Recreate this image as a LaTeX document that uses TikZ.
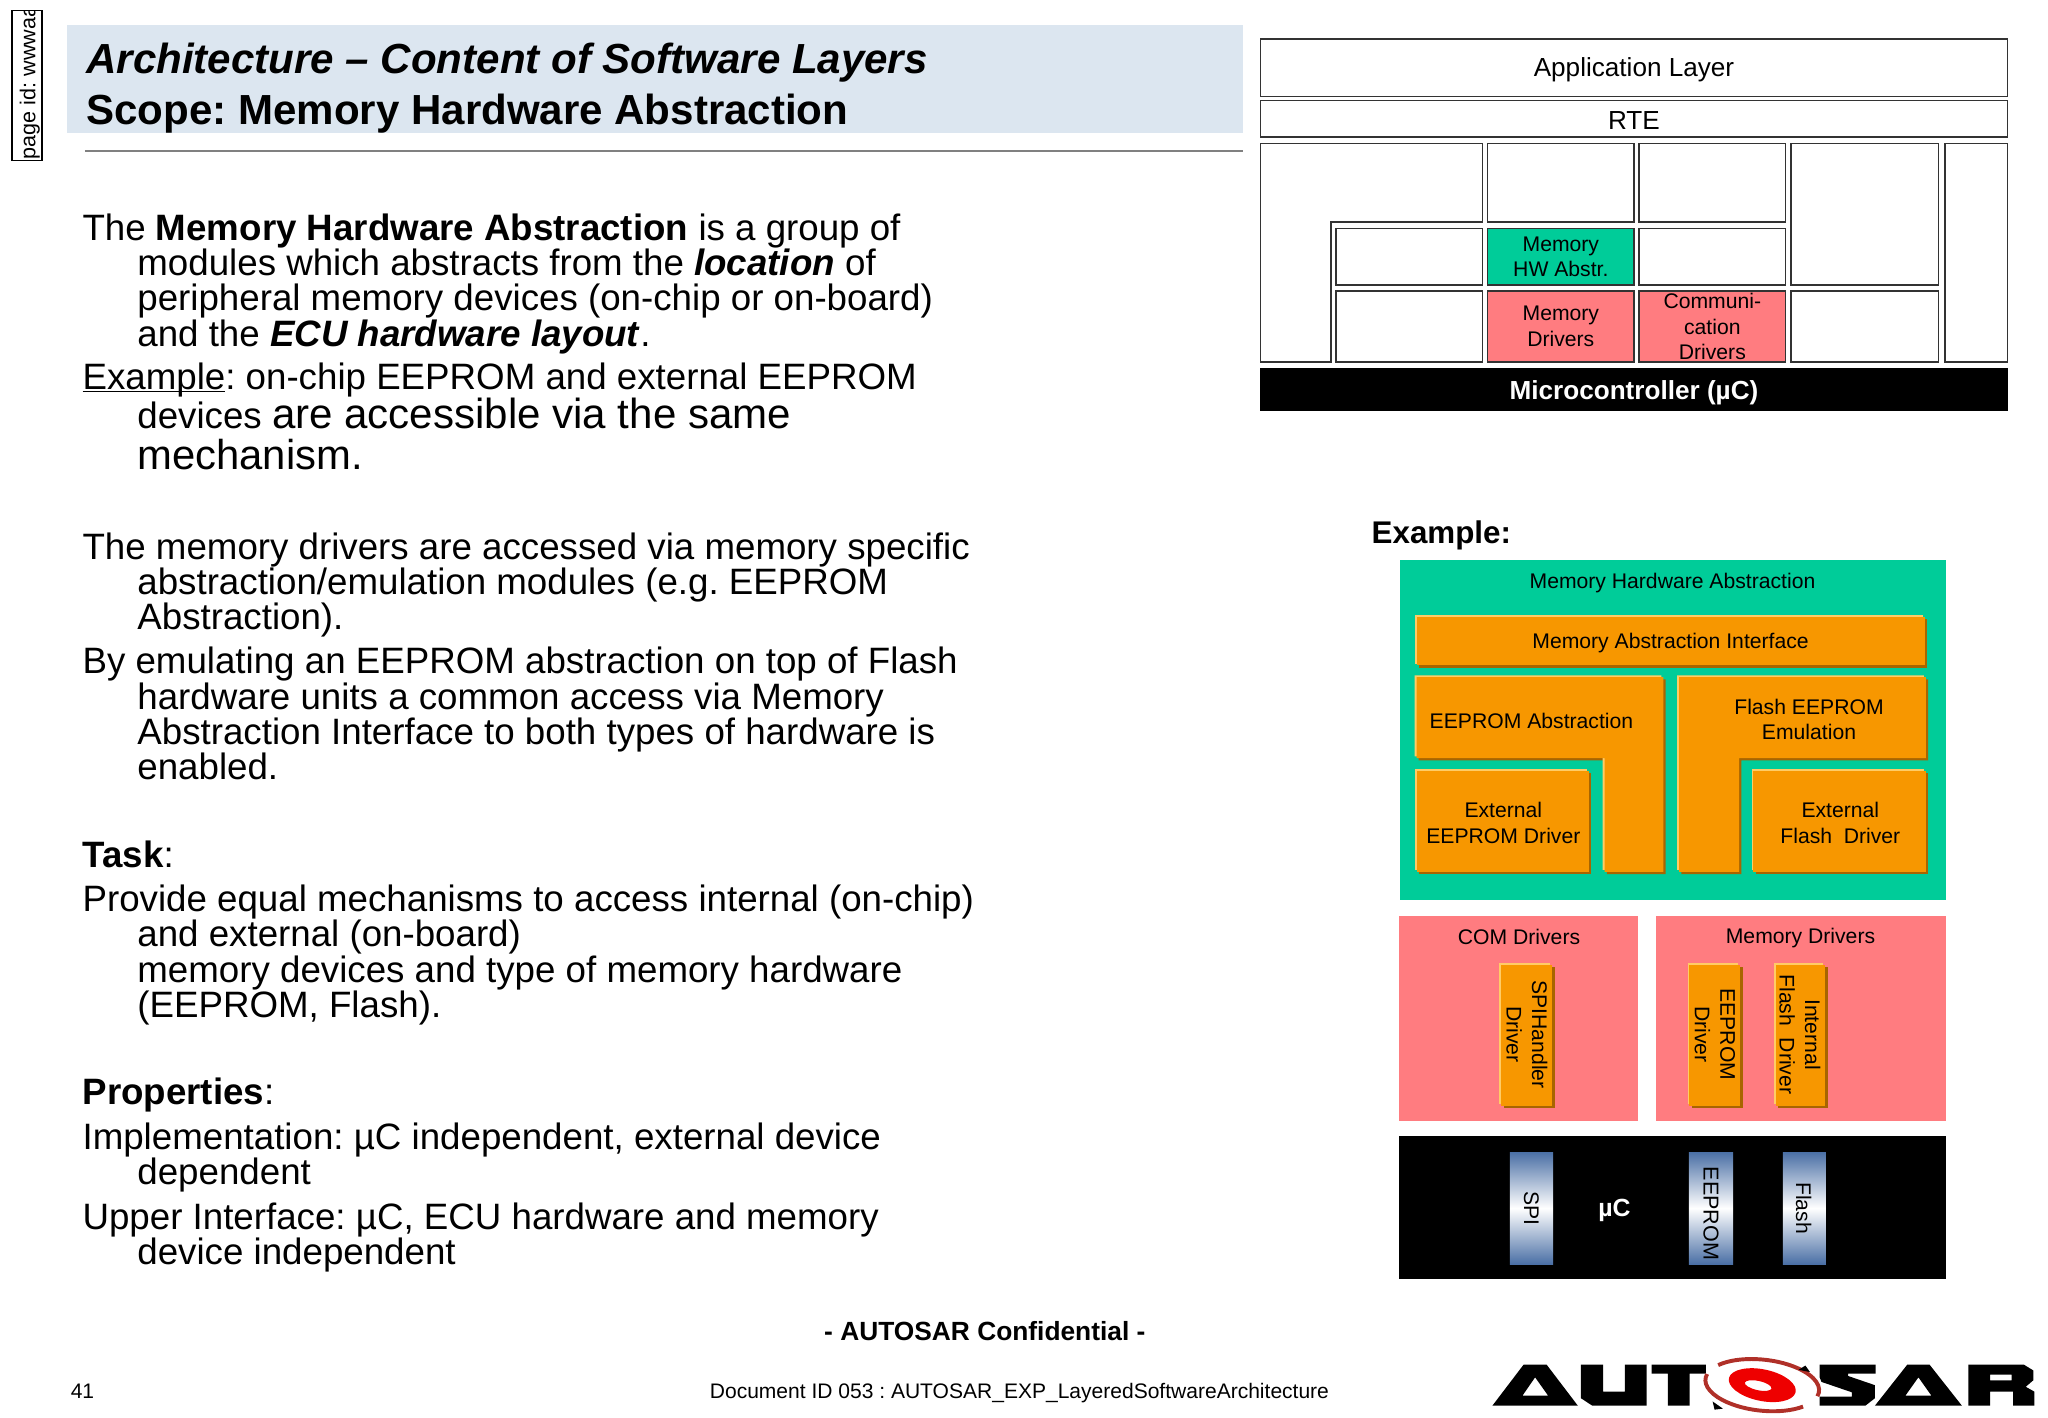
\documentclass[tikz,border=0pt]{standalone}
\usepackage{fontspec}
\setmainfont{Liberation Sans}
\frenchspacing
\definecolor{band}{HTML}{DCE6F0}
\definecolor{hwgreen}{HTML}{00CC99}
\definecolor{drvpink}{HTML}{FF7C80}
\definecolor{omain}{HTML}{F79700}
\definecolor{olight}{HTML}{FFCC66}
\definecolor{odark}{HTML}{A86500}
\definecolor{chipblue}{HTML}{4A6FA5}
\definecolor{logored}{HTML}{EE0000}
\definecolor{logoring}{HTML}{B03028}
\newcommand\fsz[2]{\fontsize{#1}{#2}\selectfont}
\newcommand\bevel[1]{%
  \fill[odark,shift={(3.2,3.2)}] #1 -- cycle;
  \fill[olight] #1 -- cycle;
  \fill[omain,shift={(1.5,1.5)}] #1 -- cycle;}
\tikzset{
  lay/.style={draw=black!80,line width=1.2pt,fill=white},
  body/.style={anchor=base west,inner sep=0pt,font=\fsz{28.1}{30}},
  big/.style={anchor=base west,inner sep=0pt,font=\fsz{32}{34}},
  title/.style={anchor=base west,inner sep=0pt,font=\fsz{32.2}{36}\bfseries},
  lbl/.style={inner sep=0pt,align=center,font=\fsz{16.2}{19.5}},
  toplbl/.style={inner sep=0pt,align=center,font=\fsz{20}{24}},
  foot/.style={inner sep=0pt,anchor=base,font=\fsz{16.1}{19}},
  chip/.style={top color=chipblue,bottom color=chipblue,middle color=white},
}
\begin{document}
\begin{tikzpicture}[x=1pt,y=-1pt]
\useasboundingbox (0,0) rectangle (1568,1085.6);
% page id
\begin{scope}
\clip (9,8) rectangle (32,123);
\node[rotate=90,anchor=base west,inner sep=0pt,font=\fsz{16.5}{20}] (pid) at (27,122) {page id: wwwaa};
\end{scope}
\draw[black,line width=1.2pt] (9,8) rectangle (32,123);
% title
\fill[band] (51,19) rectangle (952,102);
\draw[gray,line width=1pt] (65,115.5) -- (952,115.5);
\node[title] (ti1) at (66,56) {\itshape Architecture – Content of Software Layers};
\node[title] (ti2) at (66,95) {Scope: Memory Hardware Abstraction};
% body
\node[body] (b1) at (63,184) {The \textbf{Memory Hardware Abstraction} is a group of};
\node[body] (b2) at (105,211) {modules which abstracts from the \textbf{\textit{location}} of};
\node[body] (b3) at (105,238) {peripheral memory devices (on-chip or on-board)};
\node[body] (b4) at (105,265) {and the \textbf{\textit{ECU hardware layout}}.};
\node[body] (b5) at (63,298) {\underline{\smash{Example}}: on-chip EEPROM and external EEPROM};
\node[body] (b6) at (105,328) {devices {\fsz{32.2}{34}are accessible via the same}};
\node[big] (b7) at (105,359.5) {mechanism.};
\node[body] (b8) at (63,428) {The memory drivers are accessed via memory specific};
\node[body] (b9) at (105,455) {abstraction/emulation modules (e.g. EEPROM};
\node[body] (b10) at (105,482) {Abstraction).};
\node[body] (b11) at (63,516) {By emulating an EEPROM abstraction on top of Flash};
\node[body] (b12) at (105,543) {hardware units a common access via Memory};
\node[body] (b13) at (105,570) {Abstraction Interface to both types of hardware is};
\node[body] (b14) at (105,597) {enabled.};
\node[body] (b15) at (63,664) {\textbf{Task}:};
\node[body] (b16) at (63,698) {Provide equal mechanisms to access internal (on-chip)};
\node[body] (b17) at (105,725) {and external (on-board)};
\node[body] (b18) at (105,752) {memory devices and type of memory hardware};
\node[body] (b19) at (105,779) {(EEPROM, Flash).};
\node[body] (b20) at (63,846) {\textbf{Properties}:};
\node[body] (b21) at (63,880) {Implementation: µC independent, external device};
\node[body] (b22) at (105,907) {dependent};
\node[body] (b23) at (63,941) {Upper Interface: µC, ECU hardware and memory};
\node[body] (b24) at (105,968) {device independent};
% footer
\node[foot,font=\fsz{20.15}{24}\bfseries] (f1) at (754,1026) {- AUTOSAR Confidential -};
\node[foot,anchor=base west] (f2) at (54,1071) {41};
\node[foot] (f3) at (780.5,1071) {Document ID 053 : AUTOSAR\_EXP\_LayeredSoftwareArchitecture};
% upper layer diagram
\draw[lay] (965,30) rectangle (1537,74);
\node[toplbl] (al) at (1251,53.5) {Application Layer};
\draw[lay] (965,77) rectangle (1537,105);
\node[toplbl] (rte) at (1251,92) {RTE};
\draw[lay] (965,110) -- (1135,110) -- (1135,170) -- (1019,170) -- (1019,277) -- (965,277) -- cycle;
\draw[lay] (1139,110) rectangle (1251,170);
\draw[lay] (1255,110) rectangle (1367,170);
\draw[lay] (1371,110) rectangle (1484,218);
\draw[lay] (1489,110) rectangle (1537,277);
\draw[lay] (1023,175) rectangle (1135,218);
\draw[lay,fill=hwgreen] (1139,175) rectangle (1251,218);
\node[lbl] (mha) at (1195,196.5) {Memory\\HW Abstr.};
\draw[lay] (1255,175) rectangle (1367,218);
\draw[lay] (1023,223) rectangle (1135,277);
\draw[lay,fill=drvpink] (1139,223) rectangle (1251,277);
\node[lbl] (mdr) at (1195,250) {Memory\\Drivers};
\draw[lay,fill=drvpink] (1255,223) rectangle (1367,277);
\node[lbl] (cdr) at (1311,250) {Communi-\\cation\\Drivers};
\draw[lay] (1371,223) rectangle (1484,277);
\fill[black] (965,282) rectangle (1537,315);
\node[toplbl,text=white,font=\fsz{20}{24}\bfseries] (mc) at (1251,300.5) {Microcontroller (µC)};
% example
\node[anchor=base west,inner sep=0pt,font=\fsz{24}{28}\bfseries] (ex) at (1050,416) {Example:};
\fill[hwgreen] (1072,429) rectangle (1490,689);
\node[lbl] (l1) at (1280.5,446.5) {Memory Hardware Abstraction};
\bevel{(1083,471) -- (1472,471) -- (1472,508) -- (1083,508)}
\node[lbl] (l2) at (1279,492.5) {Memory Abstraction Interface};
\bevel{(1083,517) -- (1272,517) -- (1272,666) -- (1227,666) -- (1227,579) -- (1083,579)}
\node[lbl] (l3) at (1172.5,552) {EEPROM Abstraction};
\bevel{(1083,589) -- (1215,589) -- (1215,666) -- (1083,666)}
\node[lbl] (l4) at (1151,630) {External\\EEPROM Driver};
\bevel{(1284,517) -- (1473,517) -- (1473,579) -- (1330,579) -- (1330,666) -- (1284,666)}
\node[lbl] (l5) at (1385,551) {Flash EEPROM\\Emulation};
\bevel{(1341,589) -- (1473,589) -- (1473,666) -- (1341,666)}
\node[lbl] (l6) at (1409,630) {External\\Flash\ \ Driver};
% drivers
\fill[drvpink] (1071,701) rectangle (1254,858);
\node[lbl] (l7) at (1163,717) {COM Drivers};
\fill[drvpink] (1268,701) rectangle (1490,858);
\node[lbl] (l8) at (1378.5,718.5) {Memory Drivers};
\bevel{(1148,737) -- (1187,737) -- (1187,845) -- (1148,845)}
\node[lbl,rotate=-90] (l9) at (1169,792) {SPIHandler\\Driver};
\bevel{(1292,737) -- (1331,737) -- (1331,845) -- (1292,845)}
\node[lbl,rotate=-90] (l10) at (1313,792) {EEPROM\\Driver};
\bevel{(1358,737) -- (1396,737) -- (1396,845) -- (1358,845)}
\node[lbl,rotate=-90] (l11) at (1378,792) {Internal\\Flash\ \ Driver};
% microcontroller
\fill[black] (1071,870) rectangle (1490,979);
\fill[chip] (1156,882) rectangle (1189,968);
\fill[chip] (1293,882) rectangle (1327,968);
\fill[chip] (1365,882) rectangle (1398,968);
\node[lbl,rotate=-90] (c1) at (1172.5,925) {SPI};
\node[lbl,rotate=-90,font=\fsz{16.5}{20}] (c2) at (1310,929) {EEPROM};
\node[lbl,rotate=-90] (c3) at (1381,925) {Flash};
\node[lbl,text=white,font=\fsz{19}{22}\bfseries] (c4) at (1236,927) {µC};
% logo
\begin{scope}[shift={(1111,998)},xscale=.2923,yscale=.25]
\fill[black,even odd rule] (108,313) -- (190,187) -- (250,187) -- (332,313) -- cycle
  (187,282) -- (220,226) -- (254,282) -- cycle;
\fill[black] (340,187) -- (398,187) -- (398,270) -- (455,270) -- (455,187) -- (512,187) -- (512,313) -- (370,313) -- (340,290) -- cycle;
\fill[black] (525,187) -- (667,187) -- (667,215) -- (625,215) -- (625,313) -- (568,313) -- (568,215) -- (525,215) -- cycle;
\begin{scope}[shift={(815,250)},rotate=-8]
\draw[logoring,line width=3pt] (40:150 and 78) arc[start angle=40,end angle=190,x radius=150,y radius=78];
\draw[logoring,line width=3pt] (215:150 and 78) arc[start angle=215,end angle=370,x radius=150,y radius=78];
\end{scope}
\fill[logored,even odd rule,rotate around={-15:(815,250)}] (815,250) ellipse[x radius=90,y radius=48]
  (805,254) ellipse[x radius=36,y radius=14];
\fill[black] (910,203) -- (928,190) -- (940,210) -- cycle;
\fill[black] (685,300) -- (712,322) -- (690,325) -- cycle;
\fill[black] (965,187) -- (1112,187) -- (1112,215) -- (1040,215) -- (1040,222) -- (1110,250) -- (1110,290) -- (1085,313) -- (965,313) -- (965,285) -- (1050,285) -- (1050,272) -- (970,240) -- (965,225) -- cycle;
\fill[black,even odd rule] (1110,313) -- (1195,187) -- (1253,187) -- (1338,313) -- cycle
  (1190,282) -- (1224,226) -- (1258,282) -- cycle;
\fill[black,even odd rule] (1355,187) -- (1500,187) -- (1525,205) -- (1525,235) -- (1505,255) -- (1528,270) -- (1528,313) -- (1472,313) -- (1472,270) -- (1412,270) -- (1412,313) -- (1355,313) -- cycle
  (1412,218) -- (1468,218) -- (1468,235) -- (1412,235) -- cycle;
\end{scope}
\end{tikzpicture}
\end{document}
